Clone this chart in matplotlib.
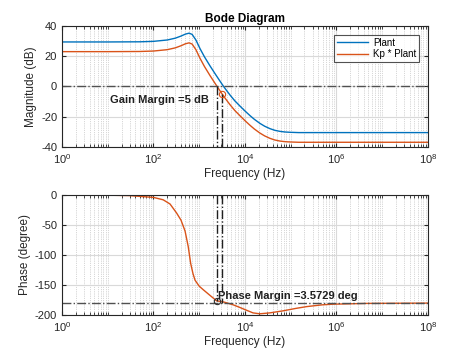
import matplotlib
matplotlib.use('Agg')
import matplotlib.pyplot as plt
import numpy as np
from matplotlib.ticker import FixedLocator, LogLocator, NullFormatter, LogFormatterMathtext

plt.rcParams['font.family'] = ['Liberation Sans', 'DejaVu Sans']
plt.rcParams['mathtext.fontset'] = 'custom'
plt.rcParams['mathtext.rm'] = 'Liberation Sans'
plt.rcParams['mathtext.it'] = 'Liberation Sans:italic'
plt.rcParams['axes.unicode_minus'] = False

# magnitude data
freq_mag = [1, 10, 50, 100, 200, 300, 400, 500, 600, 700, 850, 1040, 1300, 1720,
            2200, 2830, 3500, 4690, 6000, 7800, 10000, 12800, 16000, 21200, 27000,
            35200, 45000, 58500, 75000, 96700, 150000, 1e6, 1e8]
plant_db = [29.4, 29.4, 29.5, 29.8, 30.7, 31.9, 33.3, 34.6, 35.2, 34.4, 30.6, 25.0,
            19.6, 13.6, 8.6, 3.6, -0.5, -5.6, -9.5, -13.0, -16.2, -19.2, -21.7,
            -24.4, -26.3, -27.9, -29.0, -29.7, -30.1, -30.3, -30.5, -30.5, -30.5]
kp_plant_db = [23.0, 23.0, 23.1, 23.4, 24.3, 25.5, 26.9, 28.2, 28.8, 28.0, 24.2, 18.6,
               13.2, 7.2, 2.2, -2.8, -6.9, -12.0, -15.9, -19.4, -22.6, -25.6, -28.1,
               -30.8, -32.7, -34.3, -35.4, -36.1, -36.5, -36.7, -36.9, -36.9, -36.9]

# phase data
freq_ph = [1, 10, 30, 100, 163, 230, 320, 400, 490, 575, 650, 730, 810, 1000, 1230,
           1700, 2400, 3500, 5500, 7500, 10000, 15000, 21000, 35000, 69000, 130000,
           224000, 500000, 850000, 4.6e6, 1e8]
phase_deg = [0, -0.3, -1, -4, -8, -15, -30, -42, -60, -86, -114, -131, -142, -152, -158,
             -167, -176.4, -178.5, -183, -187, -191, -196.5, -198, -196.5, -193, -189,
             -186, -183, -182, -180.7, -180.2]

# margins
gm_freq = 3140
gm_db = -5
pm_freq = 2443
pm_phase = -176.4

xtick_vals = [1, 1e2, 1e4, 1e6, 1e8]

blue = '#0072BD'
orange = '#D95319'

fig = plt.figure(figsize=(4.74, 3.55), dpi=100)
ax1 = fig.add_axes([0.1308, 0.586, 0.772, 0.341])
ax2 = fig.add_axes([0.1308, 0.1127, 0.772, 0.338])

def style(ax):
    ax.set_xscale('log')
    ax.set_xlim(1, 1e8)
    ax.xaxis.set_major_locator(FixedLocator(xtick_vals))
    ax.xaxis.set_major_formatter(LogFormatterMathtext())
    ax.xaxis.set_minor_locator(LogLocator(base=10.0, subs=np.arange(1, 10), numticks=100))
    ax.xaxis.set_minor_formatter(NullFormatter())
    ax.grid(True, which='major', color='#d9d9d9', linewidth=0.8, linestyle='-')
    ax.grid(True, which='minor', axis='x', color='#b0b0b0', linewidth=0.5, linestyle=':')
    ax.tick_params(which='both', direction='in', labelsize=8, colors='#262626',
                   top=True, right=True)
    ax.tick_params(which='minor', length=2)
    ax.tick_params(which='major', length=3)
    for s in ax.spines.values():
        s.set_color('#262626')
        s.set_linewidth(0.8)
    ax.set_axisbelow(True)

# magnitude
style(ax1)
ax1.plot(freq_mag, plant_db, color=blue, linewidth=1.0, label='Plant')
ax1.plot(freq_mag, kp_plant_db, color=orange, linewidth=1.0, label='Kp * Plant')
ax1.axhline(0, color='#505050', linestyle='-.', linewidth=1.0)
ax1.plot([pm_freq, pm_freq], [0, -40], color='#202020', linestyle='-.', linewidth=1.0)
ax1.plot([gm_freq, gm_freq], [gm_db, -40], color='#202020', linestyle='-.', linewidth=1.0)
ax1.plot([gm_freq], [gm_db], 'o', markersize=4.5, markerfacecolor='none',
         markeredgecolor=orange, markeredgewidth=0.8)
ax1.text(1630, -9, 'Gain Margin =5 dB', fontsize=8, fontweight='bold',
         ha='right', va='center', color='#202020')
ax1.set_ylim(-40, 40)
ax1.set_yticks([-40, -20, 0, 20, 40])
ax1.set_ylabel('Magnitude (dB)', fontsize=8.5, color='#262626', labelpad=3)
ax1.set_xlabel('Frequency (Hz)', fontsize=8.5, color='#262626', labelpad=2)
ax1.set_title('Bode Diagram', fontsize=8.5, fontweight='bold', pad=3)
leg = ax1.legend(loc='upper right', fontsize=7, frameon=True, fancybox=False,
                 edgecolor='#262626', handlelength=3.2, borderpad=0.3,
                 labelspacing=0.15, borderaxespad=0.9, handletextpad=0.5)
leg.get_frame().set_linewidth(0.8)

# phase
style(ax2)
ax2.plot(freq_ph, phase_deg, color=orange, linewidth=1.0)
ax2.axhline(-180, color='#505050', linestyle='-.', linewidth=1.0)
ax2.plot([pm_freq, pm_freq], [0, pm_phase], color='#202020', linestyle='-.', linewidth=1.0)
ax2.plot([gm_freq, gm_freq], [0, -180], color='#202020', linestyle='-.', linewidth=1.0)
ax2.plot([pm_freq], [pm_phase], 'o', markersize=4.5, markerfacecolor='none',
         markeredgecolor='#303030', markeredgewidth=0.8)
ax2.text(2610, -168, 'Phase Margin =3.5729 deg', fontsize=8, fontweight='bold',
         ha='left', va='center', color='#202020')
ax2.set_ylim(-200, 0)
ax2.set_yticks([-200, -150, -100, -50, 0])
ax2.set_ylabel('Phase (degree)', fontsize=8.5, color='#262626', labelpad=3)
ax2.set_xlabel('Frequency (Hz)', fontsize=8.5, color='#262626', labelpad=2)

fig.savefig('out.png', dpi=100)
